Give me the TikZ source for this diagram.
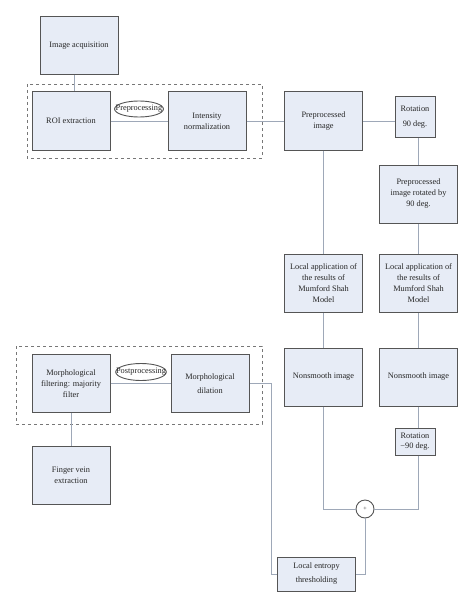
\documentclass[tikz,border=0pt]{standalone}
\usepackage{fontspec}
\setmainfont{Liberation Serif}
\usetikzlibrary{shapes.geometric}
\definecolor{boxfill}{HTML}{E7ECF6}
\definecolor{boxline}{HTML}{555555}
\definecolor{wire}{HTML}{9EA8B8}
\begin{document}
\begin{tikzpicture}[x=1pt,y=-1pt]
    \useasboundingbox (0,0) rectangle (474,607);
    % dashed groups
    \draw[boxline!80,dashed,line width=0.9pt] (27,84) rectangle (262,158);
    \draw[boxline!80,dashed,line width=0.9pt] (16,346) rectangle (262,424);
    \begin{scope}[every node/.style={rectangle,draw=boxline,fill=boxfill,line width=1pt,
        minimum width=78pt,minimum height=58pt,align=center,inner sep=1pt,
        text=black!85,font=\fontsize{8.3}{11}\selectfont}]
      \node (acq) at (79,45.5) {Image acquisition};
      \node (roi) at (71,121) {ROI extraction};
      \node (norm) at (207,121) {Intensity\\normalization};
      \node (pre) at (323.5,121) {Preprocessed\\image};
      \node[minimum width=40pt,minimum height=40pt,font=\fontsize{8.3}{15}\selectfont] (rot) at (415,117) {Rotation\\90 deg.};
      \node (prerot) at (418.5,194) {Preprocessed\\image rotated by\\90 deg.};
      \node (locL) at (323.5,283.5) {Local application of\\the results of\\Mumford Shah\\Model};
      \node (locR) at (418.5,283.5) {Local application of\\the results of\\Mumford Shah\\Model};
      \node (nsL) at (323.5,377) {Nonsmooth image};
      \node (nsR) at (418.5,377) {Nonsmooth image};
      \node[minimum width=40pt,minimum height=27pt,font=\fontsize{8.3}{10}\selectfont] (rotm) at (415,441.5) {Rotation\\−90 deg.};
      \node[minimum height=34pt,font=\fontsize{8.3}{14}\selectfont] (ent) at (316.5,574) {Local entropy\\thresholding};
      \node (filt) at (71,383.5) {Morphological\\filtering: majority\\filter};
      \node[font=\fontsize{8.3}{14}\selectfont] (dil) at (210,383.5) {Morphological\\dilation};
      \node (vein) at (71,475) {Finger vein\\extraction};
    \end{scope}
    \begin{scope}[every node/.style={ellipse,draw=boxline,line width=0.9pt,fill=white,
        inner ysep=0pt,text=black!85,font=\fontsize{8.3}{9}\selectfont}]
      \node[inner xsep=-6pt,minimum height=16pt] (prep) at (139,109) {Preprocessing};
      \node[inner xsep=-7pt,minimum height=17pt] (post) at (141,372) {Postprocessing};
      \node[circle,inner sep=0pt,minimum size=18pt,font=\fontsize{6}{7}\selectfont] (plus) at (365,509) {+};
    \end{scope}
    \begin{scope}[every path/.style={draw=wire,line width=0.9pt}]
      \path (acq.south -| 74,0) -- (roi.north -| 74,0);
      \path (roi) -- (norm);
      \path (norm) -- (pre);
      \path (pre.east) -- (pre.east -| rot.west);
      \path (prerot.north) -- (prerot.north |- rot.south);
      \path (pre) -- (locL);
      \path (prerot) -- (locR);
      \path (locL) -- (nsL);
      \path (locR) -- (nsR);
      \path (nsR.south) -- (nsR.south |- rotm.north);
      \path (rotm.south -| nsR.south) |- (plus.east);
      \path (nsL.south) |- (plus.west);
      \path (plus.south) |- (ent.east);
      \path (ent.west) -- ++(-6,0) |- (dil.east);
      \path (filt) -- (dil);
      \path (filt) -- (vein);
    \end{scope}
  \end{tikzpicture}
\end{document}
